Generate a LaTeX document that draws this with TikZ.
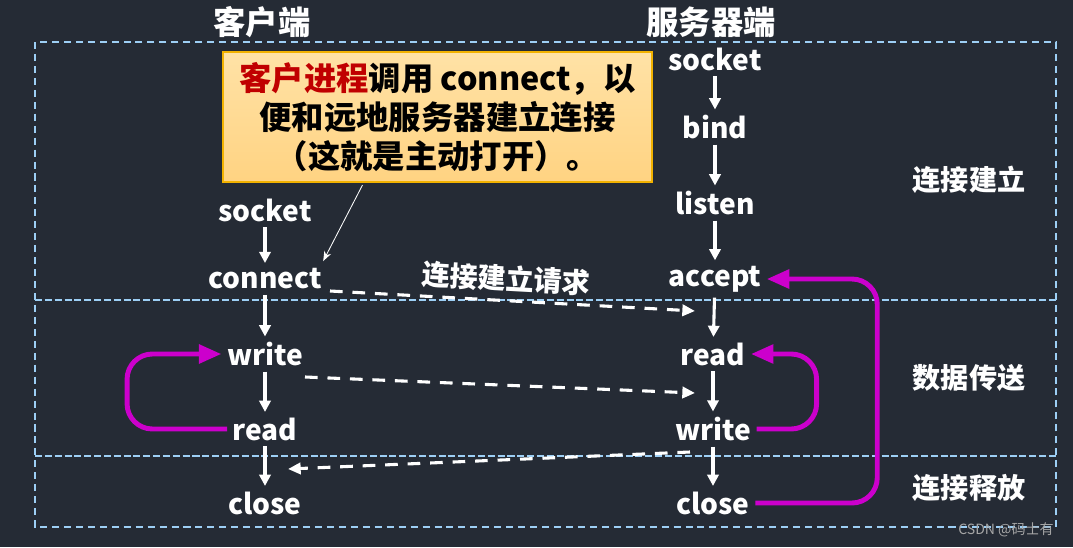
\documentclass[tikz,border=0pt]{standalone}
\usepackage{fontspec}
\setmainfont{Noto Sans CJK SC}
\usepackage{tikz}
\usetikzlibrary{arrows.meta}
\usetikzlibrary{positioning}
\definecolor{bg}{HTML}{252B35}
\definecolor{frame}{HTML}{9DCFF5}
\definecolor{mag}{HTML}{CC00CC}
\definecolor{boxtop}{HTML}{FFE2A6}
\definecolor{boxbot}{HTML}{FFD382}
\definecolor{boxline}{HTML}{F2B200}
\definecolor{redtxt}{HTML}{C00000}
\newcommand*{\bigfont}{\fontsize{23}{28}\selectfont\bfseries}
\newcommand*{\lblfont}{\fontsize{20}{24}\selectfont\bfseries}
\tikzstyle{base}=[x=0.025cm, y=-0.025cm, inner sep=0pt, outer sep=0pt]
\tikzstyle{lbl}=[text=white, font=\lblfont, inner sep=4pt]
\tikzstyle{side}=[text=white, font=\lblfont]
\tikzstyle{flow}=[white, line width=2.2pt, -{Triangle[length=8pt, width=8pt]}]
\tikzstyle{msg}=[white, line width=2.2pt, dash pattern=on 9pt off 7pt, -{Triangle[length=9pt, width=8pt]}]
\tikzstyle{loopy}=[mag, line width=3.5pt, rounded corners=18pt, -{Triangle[length=16pt, width=13pt]}]
\tikzstyle{divide}=[frame, line width=0.8pt, dash pattern=on 5pt off 2pt]

\begin{document}
\begin{tikzpicture}[base]
    \fill [bg] (0,0) rectangle (1073,547);
    \draw [frame, line width=1pt, dash pattern=on 5pt off 3.5pt] (35,42) rectangle (1056,527);
    \draw [divide] (35,300) -- (1056,300);
    \draw [divide] (35,456) -- (1056,456);

    \node [text=white, font=\bigfont] (ctitle) at (262,22) {客户端};
    \node [text=white, font=\bigfont] (stitle) at (711,22) {服务器端};

    \node [draw=boxline, line width=1pt, top color=boxtop, bottom color=boxbot,
           minimum width=10.72cm, minimum height=3.25cm, align=center, font=\bigfont,
           text=black] (callout) at (437.5,117)
        {\textcolor{redtxt}{客户进程}调用 connect，以\\便和远地服务器建立连接\\（这就是主动打开）。};

    \node [lbl] (csocket) at (265,210) {socket};
    \node [lbl] (cconnect) at (265,279) {connect};
    \node [lbl] (cwrite) at (265,354) {write};
    \node [lbl] (cread) at (265,429) {read};
    \node [lbl] (cclose) at (265,503) {close};

    \node [lbl] (ssocket) at (715,59) {socket};
    \node [lbl] (sbind) at (715,127) {bind};
    \node [lbl] (slisten) at (715,203) {listen};
    \node [lbl] (saccept) at (715,279) {accept};
    \node [lbl] (sread) at (713,354) {read};
    \node [lbl] (swrite) at (713,429) {write};
    \node [lbl] (sclose) at (713,503) {close};

    \node [side] (phase1) at (969,180) {连接建立};
    \node [side] (phase2) at (969,378) {数据传送};
    \node [side] (phase3) at (969,488) {连接释放};

    \draw [flow] (csocket) -- (cconnect);
    \draw [flow] (cconnect) -- (cwrite);
    \draw [flow] (cwrite) -- (cread);
    \draw [flow] (cread) -- (cclose);
    \draw [flow] (ssocket) -- (sbind);
    \draw [flow] (sbind) -- (slisten);
    \draw [flow] (slisten) -- (saccept);
    \draw [flow] (saccept) -- (sread);
    \draw [flow] (sread) -- (swrite);
    \draw [flow] (swrite) -- (sclose);

    \draw [white, line width=0.6pt, -{Stealth[length=7pt]}] ([shift={(-75,3)}]callout.south) -- ([shift={(-4,-2)}]cconnect.north east);

    \coordinate (reqa) at (330,291);
    \coordinate (reqb) at (695,311);
    \draw [msg] (reqa) -- (reqb) node [pos=0.48, above=6pt, sloped, text=white, font=\lblfont] (reqlbl) {连接建立请求};
    \coordinate (data1) at (305,377);
    \coordinate (data2) at (695,393);
    \draw [msg] (data1) -- (data2);
    \coordinate (fin1) at (690,452);
    \coordinate (fin2) at (288,469);
    \draw [msg] (fin1) -- (fin2);

    \draw [loopy] (cread.west) -- ++(-100,0) |- (cwrite.west);
    \draw [loopy] (swrite.east) -- ++(60,0) |- (sread.east);
    \draw [loopy] (sclose.east) -- ++(122,0) |- (saccept.east);

    \node [text=gray!70, font=\fontsize{10}{12}\selectfont] (mark) at (1006,530) {CSDN @码士有};
\end{tikzpicture}
\end{document}
